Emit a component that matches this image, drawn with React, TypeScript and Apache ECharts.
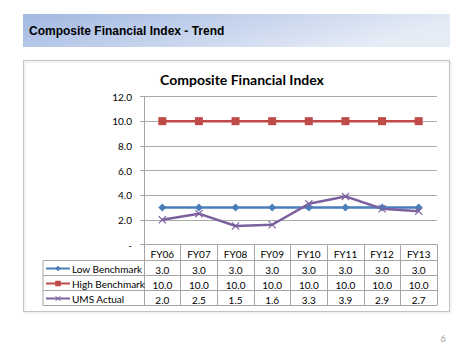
import React, { useEffect, useRef } from "react";
import * as echarts from "echarts";

const categories = ["FY06", "FY07", "FY08", "FY09", "FY10", "FY11", "FY12", "FY13"];
const lowBenchmark = [3.0, 3.0, 3.0, 3.0, 3.0, 3.0, 3.0, 3.0];
const highBenchmark = [10.0, 10.0, 10.0, 10.0, 10.0, 10.0, 10.0, 10.0];
const umsActual = [2.0, 2.5, 1.5, 1.6, 3.3, 3.9, 2.9, 2.7];
const seriesNames = ["Low Benchmark", "High Benchmark", "UMS Actual"];
const slideTitle = "Composite Financial Index - Trend";
const chartTitle = "Composite Financial Index";
const pageNumber = "6";

const W = 474;
const H = 355;
const GRID_L = 144;
const GRID_R = 437;
const GRID_T = 96.5;
const GRID_B = 244.5;
const TABLE_L = 43;
const HEADER_H = 16;
const ROW_H = 15;
const FONT = "Lato, 'Open Sans', sans-serif";
const X_PATH = "path://M0,1L1,0L5,4L9,0L10,1L6,5L10,9L9,10L5,6L1,10L0,9L4,5Z";

export default function App() {
  const ref = useRef<HTMLDivElement>(null);
  useEffect(() => {
    if (!ref.current) return;
    const chart = echarts.init(ref.current, null, { renderer: "svg" });
    const rowTops = [GRID_B + HEADER_H, GRID_B + HEADER_H + ROW_H, GRID_B + HEADER_H + 2 * ROW_H, GRID_B + HEADER_H + 3 * ROW_H];
    const tableBottom = rowTops[3];
    const lineColor = "#a6a6a6";
    const graphics: any[] = [
      {
        type: "rect",
        shape: { x: 23, y: 14, width: 427, height: 33 },
        style: {
          fill: new echarts.graphic.LinearGradient(0, 0, 1, 0.3, [
            { offset: 0, color: "#a2b8e2" },
            { offset: 1, color: "#e6ecf6" },
          ]),
        },
        z: 0,
      },
      {
        type: "text",
        x: 29,
        y: 31,
        style: { text: slideTitle, fill: "#000", font: "bold 12px 'Liberation Sans', Arial, sans-serif", textVerticalAlign: "middle" },
      },
      {
        type: "rect",
        shape: { x: 23.5, y: 60.5, width: 426, height: 251 },
        style: { fill: "none", stroke: "#c4c4c4", lineWidth: 1, shadowBlur: 2, shadowColor: "rgba(0,0,0,0.15)", shadowOffsetX: 1, shadowOffsetY: 1 },
      },
      {
        type: "text",
        x: W - 31,
        y: 338,
        style: { text: pageNumber, fill: "#a0a0a0", font: "9px " + FONT, textAlign: "center", textVerticalAlign: "middle" },
      },
    ];
    rowTops.forEach((y) => {
      graphics.push({
        type: "line",
        shape: { x1: TABLE_L, y1: y, x2: GRID_R, y2: y },
        style: { stroke: lineColor, lineWidth: 1 },
      });
    });
    graphics.push({
      type: "line",
      shape: { x1: TABLE_L, y1: rowTops[0], x2: TABLE_L, y2: tableBottom },
      style: { stroke: lineColor, lineWidth: 1 },
    });

    const colors = ["#4a7ebb", "#be4b48", "#7d60a0"];
    chart.setOption({
      animation: false,
      color: colors,
      title: {
        text: chartTitle,
        left: 237,
        top: 67,
        textAlign: "center",
        textStyle: { fontFamily: FONT, fontWeight: "bold", fontSize: 14, color: "#000" },
      },
      legend: {
        orient: "vertical",
        left: TABLE_L + 2,
        top: rowTops[0] + 0.5,
        itemWidth: 24,
        itemHeight: 7,
        itemGap: 0,
        data: seriesNames,
        textStyle: { fontFamily: FONT, fontSize: 10, color: "#000", lineHeight: ROW_H, padding: [0, 0, 0, -3] },
        padding: 0,
        selectedMode: false,
      },
      grid: { left: GRID_L, right: W - GRID_R, top: GRID_T, bottom: H - GRID_B, containLabel: false },
      xAxis: {
        type: "category",
        data: categories,
        boundaryGap: true,
        axisLine: { show: true, lineStyle: { color: lineColor, width: 1 } },
        axisTick: { show: true, length: tableBottom - GRID_B, lineStyle: { color: lineColor }, alignWithLabel: false },
        axisLabel: {
          interval: 0,
          margin: 1,
          fontFamily: FONT,
          fontSize: 10,
          color: "#000",
          lineHeight: ROW_H,
          formatter: (v: string, i: number) =>
            [
              "{h|" + v + "}",
              lowBenchmark[i].toFixed(1),
              highBenchmark[i].toFixed(1),
              umsActual[i].toFixed(1),
            ].join("\n"),
          rich: { h: { fontFamily: FONT, fontSize: 10, lineHeight: HEADER_H + 0.5, color: "#000" } },
        },
      },
      yAxis: {
        type: "value",
        min: 0,
        max: 12,
        interval: 2,
        axisLine: { show: true, lineStyle: { color: lineColor, width: 1 } },
        axisTick: { show: true, length: 4, lineStyle: { color: lineColor } },
        splitLine: { show: true, lineStyle: { color: "#aaaaaa", width: 1 } },
        axisLabel: {
          margin: 12,
          fontFamily: FONT,
          fontSize: 10,
          color: "#000",
          formatter: (v: number) => (v === 0 ? "-" : v.toFixed(1)),
        },
      },
      series: [
        {
          name: seriesNames[0],
          type: "line",
          data: lowBenchmark,
          symbol: "diamond",
          symbolSize: 8,
          lineStyle: { width: 2.5, color: colors[0] },
          itemStyle: { color: colors[0] },
        },
        {
          name: seriesNames[1],
          type: "line",
          data: highBenchmark,
          symbol: "rect",
          symbolSize: 8,
          lineStyle: { width: 2.5, color: colors[1] },
          itemStyle: { color: colors[1] },
        },
        {
          name: seriesNames[2],
          type: "line",
          data: umsActual,
          symbol: X_PATH,
          symbolSize: 8,
          lineStyle: { width: 2.5, color: colors[2] },
          itemStyle: { color: colors[2] },
        },
      ],
      graphic: graphics,
    });
    return () => chart.dispose();
  }, []);
  return <div ref={ref} style={{ position: "fixed", left: 0, top: 0, width: W, height: H, background: "#fff" }} />;
}
